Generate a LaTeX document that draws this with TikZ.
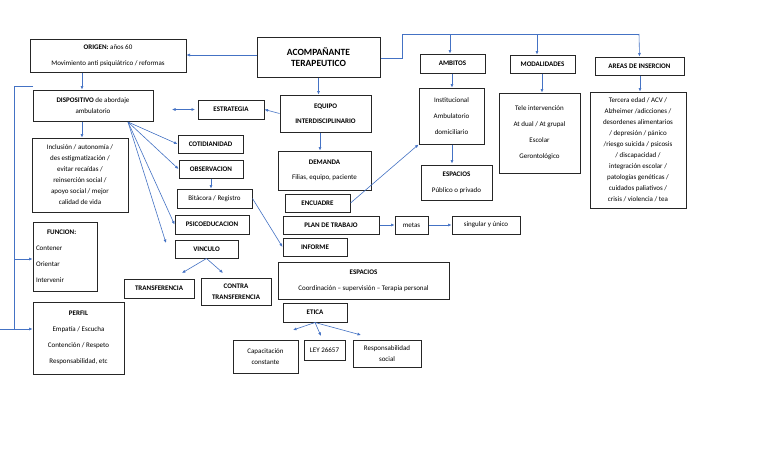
\documentclass[tikz,border=0pt]{standalone}
\usepackage{fontspec}
\setmainfont{Carlito}
\usetikzlibrary{arrows.meta}
\definecolor{ab}{RGB}{68,114,196}
\begin{document}
\begin{tikzpicture}[x=1pt,y=-1pt,
  box/.style={draw=black!85,line width=1pt,align=center,inner sep=1pt,font=\fontsize{7}{11}\selectfont},
  ar/.style={draw=ab,line width=0.6pt,-{Latex[length=3.5pt,width=3pt]}},
  ln/.style={draw=ab,line width=0.8pt}]
\useasboundingbox (0,0) rectangle (768,466);
\fill[white] (0,0) rectangle (768,466);
\newcommand{\bx}[5]{\node[box,minimum width=#3pt,minimum height=#4pt] (#1) at (#2) {#5};}
\bx{orig}{108,55.5}{156}{33}{\textbf{ORIGEN:} años 60\\[5pt]Movimiento anti psiquiátrico / reformas}
\bx{acomp}{318.5,57}{123}{40}{\fontsize{9.5}{13}\selectfont\textbf{ACOMPAÑANTE}\\\fontsize{9.5}{13}\selectfont\textbf{TERAPEUTICO}}
\bx{disp}{93,105.5}{120}{31}{\textbf{DISPOSITIVO} de abordaje\\ambulatorio}
\bx{estr}{231,109.5}{66}{19}{\textbf{ESTRATEGIA}}
\bx{equipo}{325.5,113.5}{91}{37}{\textbf{EQUIPO}\\[4pt]\textbf{INTERDISCIPLINARIO}}
\bx{incl}{80,175}{96}{74}{Inclusión / autonomía /\\des estigmatización /\\evitar recaídas /\\reinserción social /\\apoyo social / mejor\\calidad de vida}
\bx{coti}{210.5,144}{65}{18}{\textbf{COTIDIANIDAD}}
\bx{obs}{211,169}{64}{18}{\textbf{OBSERVACION}}
\bx{bit}{214.5,198.5}{75}{19}{Bitácora / Registro}
\bx{dem}{324.5,170.5}{93}{39}{\textbf{DEMANDA}\\[4pt]Filias, equipo, paciente}
\bx{enc}{317.5,203}{65}{18}{\textbf{ENCUADRE}}
\bx{plan}{331,225}{96}{18}{\textbf{PLAN DE TRABAJO}}
\bx{metas}{411.5,225}{33}{18}{metas}
\bx{sing}{486,225}{68}{18}{singular y único}
\bx{psico}{212,224.5}{74}{19}{\textbf{PSICOEDUCACION}}
\bx{vinc}{206.5,249}{63}{18}{\textbf{VINCULO}}
\bx{inf}{315,247}{64}{18}{\textbf{INFORME}}
\node[box,minimum width=64pt,minimum height=69pt,align=left,text width=58pt] (func) at (65,256.5) {\hspace*{11pt}\textbf{FUNCION:}\\[5pt]Contener\\[5pt]Orientar\\[5pt]Intervenir};
\bx{trans}{159,288.5}{70}{19}{\textbf{TRANSFERENCIA}}
\bx{contra}{236,291.5}{70}{27}{\textbf{CONTRA}\\\textbf{TRANSFERENCIA}}
\bx{esp2}{363.5,280.5}{171}{37}{\textbf{ESPACIOS}\\[5pt]Coordinación – supervisión – Terapia personal}
\bx{etica}{315,312.5}{64}{19}{\textbf{ETICA}}
\bx{perfil}{78.5,338}{91}{72}{\textbf{PERFIL}\\[5pt]Empatía / Escucha\\[5pt]Contención / Respeto\\[5pt]Responsabilidad, etc}
\bx{cap}{265.5,356.5}{65}{33}{Capacitación\\constante}
\bx{ley}{324.5,350}{41}{20}{LEY 26657}
\bx{resp}{387,353.5}{68}{27}{Responsabilidad\\social}
\bx{amb}{452.5,63.5}{65}{19}{\textbf{AMBITOS}}
\bx{mod}{542.5,64}{65}{18}{\textbf{MODALIDADES}}
\bx{areas}{639.5,66}{89}{18}{\textbf{AREAS DE INSERCION}}
\bx{inst}{451.5,116}{65}{56}{Institucional\\[5pt]Ambulatorio\\[5pt]domiciliario}
\bx{esp1}{456.5,182.5}{71}{35}{\textbf{ESPACIOS}\\[5pt]Público o privado}
\bx{tele}{539.5,133}{81}{80}{Tele intervención\\[5pt]At dual / At grupal\\[5pt]Escolar\\[5pt]Gerontológico}
\bx{terc}{638,150}{96}{116}{Tercera edad / ACV /\\Alzheimer /adicciones /\\desordenes alimentarios\\/ depresión / pánico\\/riesgo suicida / psicosis\\/ discapacidad /\\integración escolar /\\patologías genéticas /\\cuidados paliativos /\\crisis / violencia / tea}
% connectors
\draw[ar] (acomp.west|-0,55) -- (orig.east|-0,55);
\draw[ar] (orig.south-|82,0) -- (disp.north-|82,0);
\draw[ar] (acomp.south) -- (equipo.north-|acomp.south);
\draw[ar] (equipo.west) -- (estr.east);
\draw[ar,{Latex[length=3.5pt,width=3pt]}-{Latex[length=3.5pt,width=3pt]}] (172,109.5) -- (195,109.5);
\draw[ar] (disp.south-|82,0) -- (incl.north-|82,0);
\coordinate (dv) at (128,122);
\draw[ar] (dv) -- (coti.west);
\draw[ar] (dv) -- (obs.west);
\draw[ar] (dv) -- (psico.west);
\draw[ar] (dv) -- (166,243);
\draw[ar] (obs.south-|211,0) -- (bit.north-|211,0);
\draw[ar] (bit.east) -- (inf.west);
\draw[ar] (equipo.south-|320,0) -- (dem.north-|320,0);
\draw[ar] (enc.east) -- (inst.south west);
\draw[ln] (acomp.east|-0,58) -- (402,58) -- (402,34) -- (639,34);
\draw[ar] (450,34) -- (amb.north-|450,0);
\draw[ar] (537,34) -- (mod.north-|537,0);
\draw[ar] (639,34) -- (areas.north);
\draw[ar] (amb.south-|452,0) -- (inst.north-|452,0);
\draw[ar] (inst.south-|452,0) -- ++(0,19);
\draw[ar] (mod.south-|542,0) -- (tele.north-|542,0);
\draw[ar] (areas.south-|640,0) -- (terc.north-|640,0);
\draw[ar] (plan.east) -- (metas.west);
\draw[ar] (metas.east) -- (sing.west);
\draw[ar] (vinc.south) -- (182,273);
\draw[ar] (vinc.south) -- (223,273);
\draw[ar] (etica.south) -- (293,330);
\draw[ar] (etica.south) -- (321,336);
\draw[ar] (etica.south) -- (361,335);
\draw[ln] (33,86) -- (14,86) -- (14,329);
\draw[ar] (14,259) -- (func.west|-0,259);
\draw[ar] (0,329) -- (perfil.west|-0,329);
\end{tikzpicture}
\end{document}
